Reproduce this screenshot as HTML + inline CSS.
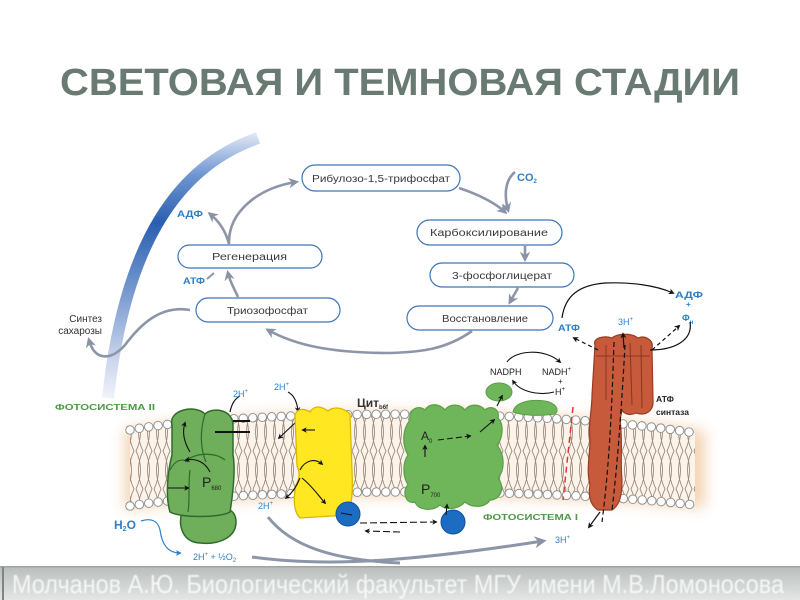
<!DOCTYPE html>
<html><head><meta charset="utf-8"><style>
html,body{margin:0;padding:0;background:#fff;}
svg{display:block;}
text{font-family:"Liberation Sans","DejaVu Sans",sans-serif;}
</style></head><body>
<svg width="800" height="600" viewBox="0 0 800 600" xmlns="http://www.w3.org/2000/svg">
<defs>
<linearGradient id="arcg" gradientUnits="userSpaceOnUse" x1="0" y1="135" x2="0" y2="400">
<stop offset="0" stop-color="#dde4f3"/><stop offset="0.15" stop-color="#6f96d2"/><stop offset="0.33" stop-color="#2a5fb0"/><stop offset="0.6" stop-color="#7a9bd0"/><stop offset="0.85" stop-color="#cbd6ec"/><stop offset="1" stop-color="#f1f4fa"/>
</linearGradient>
<linearGradient id="foot" x1="0" y1="0" x2="0" y2="1"><stop offset="0" stop-color="#b9bebd"/><stop offset="1" stop-color="#e4e6e5"/></linearGradient>
<filter id="blur" x="-20%" y="-50%" width="140%" height="200%"><feGaussianBlur stdDeviation="7"/></filter>
<filter id="soft"><feGaussianBlur stdDeviation="0.6"/></filter>
<pattern id="tails" width="9" height="38" patternUnits="userSpaceOnUse" y="413">
<path d="M1,0 C7,12 7,26 1,38 M8,0 C2,12 2,26 8,38" fill="none" stroke="#9c8a7c" stroke-width="0.9"/>
</pattern>
<clipPath id="memclip"><path d="M130,430 C220,412 520,405 695,433 L695,505 C520,485 220,490 130,506 Z"/></clipPath>
<marker id="ag" viewBox="0 0 10 10" refX="7" refY="5" markerWidth="4" markerHeight="4" orient="auto"><path d="M0,0 L10,5 L0,10 L3,5 z" fill="#8a93a6"/></marker>
<marker id="ab" viewBox="0 0 10 10" refX="7" refY="5" markerWidth="5" markerHeight="5" orient="auto"><path d="M0,0 L10,5 L0,10 L3,5 z" fill="#111"/></marker>
<marker id="abl" viewBox="0 0 10 10" refX="7" refY="5" markerWidth="5" markerHeight="5" orient="auto"><path d="M0,0 L10,5 L0,10 L3,5 z" fill="#2f7fc8"/></marker>
</defs>

<!-- Title -->
<text x="60" y="95" font-size="38" font-weight="bold" fill="#687a72" textLength="680" lengthAdjust="spacingAndGlyphs">СВЕТОВАЯ И ТЕМНОВАЯ СТАДИИ</text>

<!-- Blue arc -->
<path d="M258,138 C180,165 125,240 108,398" fill="none" stroke="url(#arcg)" stroke-width="12"/>

<!-- Cycle boxes -->
<g fill="#fff" stroke="#3d73b8" stroke-width="1.2">
<rect x="302" y="165" width="158" height="26" rx="13"/>
<rect x="178" y="245" width="144" height="23" rx="11.5"/>
<rect x="196" y="298" width="144" height="24" rx="12"/>
<rect x="417" y="220" width="145" height="25" rx="12.5"/>
<rect x="430" y="263" width="144" height="24" rx="12"/>
<rect x="407" y="306" width="146" height="24" rx="12"/>
</g>
<g font-size="10" fill="#3a3a3a">
<text x="312" y="182" textLength="138" lengthAdjust="spacingAndGlyphs">Рибулозо-1,5-трифосфат</text>
<text x="212" y="260" textLength="75" lengthAdjust="spacingAndGlyphs">Регенерация</text>
<text x="227" y="314" textLength="81" lengthAdjust="spacingAndGlyphs">Триозофосфат</text>
<text x="430" y="236" textLength="118" lengthAdjust="spacingAndGlyphs">Карбоксилирование</text>
<text x="452" y="279" textLength="100" lengthAdjust="spacingAndGlyphs">3-фосфоглицерат</text>
<text x="442" y="322" textLength="86" lengthAdjust="spacingAndGlyphs">Восстановление</text>
</g>

<!-- Gray cycle arrows -->
<g fill="none" stroke="#8d96a8" stroke-width="2.6" marker-end="url(#ag)">
<path d="M229,244 C228,212 258,188 296,182"/>
<path d="M229,244 C226,232 220,222 210,214"/>
<path d="M238,297 C234,288 230,282 228,273"/>
<path d="M190,310 C160,305 140,325 125,345 C112,360 95,362 89,340"/>
<path d="M472,331 C445,350 420,352 390,353 C330,353 295,345 268,330"/>
<path d="M459,188 C480,195 495,203 505,212"/>
<path d="M515,172 C505,180 504,195 508,210"/>
<path d="M525,246 L525,259"/>
<path d="M518,288 L510,302"/>
</g>
<path d="M207,279 L214,273" stroke="#8d96a8" stroke-width="2"/>

<g font-size="9" fill="#2f7fc8" font-weight="bold">
<text x="177" y="217" textLength="26" lengthAdjust="spacingAndGlyphs">АДФ</text>
<text x="183" y="284" textLength="22" lengthAdjust="spacingAndGlyphs">АТФ</text>
<text x="517" y="181" font-size="11">CO<tspan font-size="6" dy="2">2</tspan></text>
<text x="558" y="331" textLength="22" lengthAdjust="spacingAndGlyphs">АТФ</text>
<text x="675" y="298" textLength="28" lengthAdjust="spacingAndGlyphs">АДФ</text>
<text x="686" y="307" font-size="8">+</text>
<text x="682" y="321">Ф<tspan font-size="6" dy="3">н</tspan></text>
<text x="618" y="325" font-weight="normal">3H<tspan font-size="6" dy="-4">+</tspan></text>
</g>
<text x="102" y="322" font-size="10" fill="#333" text-anchor="end">Синтез</text>
<text x="102" y="334" font-size="10" fill="#333" text-anchor="end">сахарозы</text>

<!-- Membrane -->
<path d="M125,430 C220,410 520,402 705,431 L705,508 C520,490 220,494 125,510 Z" fill="#f0c9a0" opacity="0.8" filter="url(#blur)"/>
<path d="M130,430 C220,412 520,405 695,433 L695,505 C520,485 220,490 130,506 Z" fill="#fcf4ea"/>
<rect x="125" y="395" width="580" height="120" fill="url(#tails)" clip-path="url(#memclip)"/>
<g fill="none" stroke-linecap="round" stroke-dasharray="0 9.5">
<path d="M130,430 C220,412 520,405 695,433" stroke="#8f8f8f" stroke-width="9.5"/>
<path d="M130,430 C220,412 520,405 695,433" stroke="#fff" stroke-width="7.6"/>
<path d="M130,506 C220,490 520,485 695,505" stroke="#8f8f8f" stroke-width="9.5"/>
<path d="M130,506 C220,490 520,485 695,505" stroke="#fff" stroke-width="7.6"/>
</g>

<!-- PSII -->
<g fill="#6fae5a" stroke="#2e6b2c" stroke-width="1.5">
<path d="M182,512 C178,525 182,542 200,543 C218,545 236,538 236,522 C236,510 226,506 215,508 C205,510 200,514 195,512 Z"/>
<path d="M172,425 C168,410 195,404 205,414 C212,407 232,409 233,424 L233,455 C236,470 232,500 230,512 C220,518 180,518 170,512 C165,495 168,470 172,455 Z"/>
</g>
<g fill="none" stroke="#2e6b2c" stroke-width="1.2">
<path d="M205,414 C200,430 200,448 206,462"/>
<path d="M185,462 C195,452 215,452 225,460"/>
<path d="M190,470 C188,485 190,500 188,512"/>
<path d="M170,470 C175,460 182,458 188,462"/>
</g>
<g fill="none" stroke="#111" stroke-width="1.1" marker-end="url(#ab)">
<path d="M190,452 C184,442 182,432 185,423"/>
<path d="M210,472 C205,462 196,458 186,460"/>
<path d="M168,488 L188,488"/>
<path d="M288,392 C294,395 297,402 298,411"/>
<path d="M296,422 L279,438"/>
<path d="M507,362 C515,350 545,348 560,362"/>
<path d="M554,392 C540,396 520,392 513,381"/>
</g>
<path d="M230,412 C232,402 236,398 240,396" fill="none" stroke="#111" stroke-width="1.2"/>
<path d="M215,432 L250,432 M233,421 L250,421" stroke="#111" stroke-width="2"/>

<!-- Cyt b6f -->
<path d="M295,415 C298,407 305,409 310,412 C315,404 322,407 328,411 C335,405 345,409 350,414 L352,470 C353,490 352,505 348,515 L300,518 C292,510 294,495 296,485 C300,478 300,472 297,466 Z" fill="#ffe722" stroke="#dcb600" stroke-width="1.3"/>
<g fill="none" stroke="#111" stroke-width="1.1" marker-end="url(#ab)">
<path d="M315,430 L303,430"/>
<path d="M300,470 C305,460 315,458 322,464"/>
<path d="M302,478 C312,486 318,495 325,503"/>
<path d="M300,478 C296,488 291,494 286,498"/>
</g>
<circle cx="348" cy="514" r="12" fill="#1c6dc1" stroke="#14509a"/>

<!-- PSI -->
<path d="M410,420 C408,410 418,404 425,410 C430,402 440,404 445,410 C450,403 460,404 465,410 C470,403 480,404 485,410 C490,405 500,408 498,418 C505,425 502,440 497,445 C505,455 505,470 498,478 C506,488 500,500 490,500 C485,508 472,508 465,502 C458,510 445,510 440,505 C432,512 418,510 415,502 C405,505 402,490 408,485 C402,475 403,462 408,455 C402,445 402,430 410,420 Z" fill="#6fb65b" stroke="#5a9e48" stroke-width="1.2"/>
<ellipse cx="499" cy="392" rx="13" ry="9" fill="#6fb65b" stroke="#5a9e48"/>
<path d="M513,412 C515,402 530,399 545,401 C556,403 560,410 555,414 C540,416 525,416 513,412 Z" fill="#6fb65b" stroke="#5a9e48"/>
<circle cx="453" cy="522" r="12" fill="#1c6dc1" stroke="#14509a"/>
<g fill="none" stroke="#111" stroke-width="1.1" marker-end="url(#ab)">
<path d="M425,457 L425,446"/>
<path d="M480,432 L494,420"/>
<path d="M497,406 L502,396"/>
<path d="M446,515 L447,505"/>
<path d="M438,440 L470,436" stroke-dasharray="6 3"/>
<path d="M360,523 L436,522" stroke-dasharray="7 3"/>
<path d="M400,532 L366,531" stroke-dasharray="7 3"/>
</g>
<path d="M341,513 L352,515" stroke="#111" stroke-width="1"/>

<!-- Red dashed -->
<path d="M573,407 L563,500" stroke="#e0353a" stroke-width="1.5" stroke-dasharray="6 4" fill="none"/>

<!-- ATP synthase -->
<path d="M595,345 C592,338 605,335 612,338 C618,333 632,333 638,338 C645,335 654,340 652,348 L653,400 C654,412 645,416 636,413 C630,416 624,414 622,410 L620,420 C623,440 620,460 622,480 C622,495 620,505 612,510 L598,510 C590,505 588,495 590,485 C586,470 590,455 590,440 C588,425 592,410 592,395 Z" fill="#c65a3b" stroke="#9a3b22" stroke-width="1.2"/>
<g stroke="#8a3520" stroke-width="1" fill="none">
<path d="M606,345 L606,400"/><path d="M630,343 L632,405"/><path d="M641,345 L642,408"/>
<path d="M596,356 L650,356"/>
</g>
<g fill="none" stroke="#111" stroke-width="1.2">
<path d="M614,342 C612,400 610,460 602,522" stroke-dasharray="5 3"/>
<path d="M625,345 C622,400 618,460 612,510" stroke-dasharray="5 3"/>
<path d="M598,350 L574,338" stroke-dasharray="4 3" marker-end="url(#ab)"/>
<path d="M652,350 L679,326" stroke-dasharray="4 3" marker-end="url(#ab)"/>
<path d="M690,322 C693,340 675,350 650,350"/>
<path d="M624,348 L623,334" marker-end="url(#ab)"/>
<path d="M600,512 L589,527" marker-end="url(#ab)"/>
<path d="M562,318 C565,295 580,285 605,283 C630,282 655,285 673,293" marker-end="url(#ab)"/>
</g>

<!-- Membrane labels -->
<text x="55" y="410" font-size="8.5" font-weight="bold" fill="#4d9a45" textLength="100" lengthAdjust="spacingAndGlyphs">ФОТОСИСТЕМА II</text>
<text x="483" y="520" font-size="8.5" font-weight="bold" fill="#4d9a45" textLength="95" lengthAdjust="spacingAndGlyphs">ФОТОСИСТЕМА I</text>
<text x="202" y="487" font-size="14" fill="#222">P<tspan font-size="6" dy="3">680</tspan></text>
<text x="421" y="440" font-size="12" fill="#222">A<tspan font-size="6" dy="3">0</tspan></text>
<text x="421" y="494" font-size="14" fill="#222">P<tspan font-size="6" dy="3">700</tspan></text>
<text x="357" y="407" font-size="12" font-weight="bold" fill="#333">Цит<tspan font-size="6" dy="2">b6f</tspan></text>
<g font-size="9" fill="#2f7fc8">
<text x="233" y="397">2H<tspan font-size="6" dy="-4">+</tspan></text>
<text x="274" y="390">2H<tspan font-size="6" dy="-4">+</tspan></text>
<text x="258" y="509">2H<tspan font-size="6" dy="-4">+</tspan></text>
<text x="555" y="543">3H<tspan font-size="6" dy="-4">+</tspan></text>
<text x="193" y="560">2H<tspan font-size="6" dy="-4">+</tspan><tspan dy="4"> + ½O</tspan><tspan font-size="6" dy="2">2</tspan></text>
<text x="114" y="529" font-size="12" font-weight="bold">H<tspan font-size="7" dy="2">2</tspan><tspan dy="-2">O</tspan></text>
</g>
<g font-size="9" fill="#222">
<text x="490" y="375">NADPH</text>
<text x="542" y="375">NADH<tspan font-size="6" dy="-4">+</tspan></text>
<text x="558" y="384" font-size="8">+</text>
<text x="555" y="395">H<tspan font-size="6" dy="-4">+</tspan></text>
<text x="656" y="402" font-weight="bold" font-size="8.5">АТФ</text>
<text x="656" y="415" font-weight="bold" font-size="8.5">синтаза</text>
</g>
<path d="M141,521 C150,518 158,520 160,530 C162,545 168,553 180,553" fill="none" stroke="#2f7fc8" stroke-width="1.2" marker-end="url(#abl)"/>

<!-- Bottom gray arrows -->
<g fill="none" stroke="#8d96a8" stroke-width="3">
<path d="M268,517 C290,545 330,560 400,563"/>
<path d="M252,557 C330,568 420,560 543,541" marker-end="url(#ag)"/>
</g>

<!-- Footer -->
<rect x="0" y="567" width="800" height="33" fill="url(#foot)"/>
<rect x="0" y="566" width="800" height="1.5" fill="#9ea6a4"/>
<rect x="2" y="567" width="2" height="33" fill="#7e8684"/>
<text x="12" y="593" font-size="26" fill="#ffffff" opacity="0.8" filter="url(#soft)" textLength="772" lengthAdjust="spacingAndGlyphs">Молчанов А.Ю. Биологический факультет МГУ имени М.В.Ломоносова</text>
</svg>
</body></html>
